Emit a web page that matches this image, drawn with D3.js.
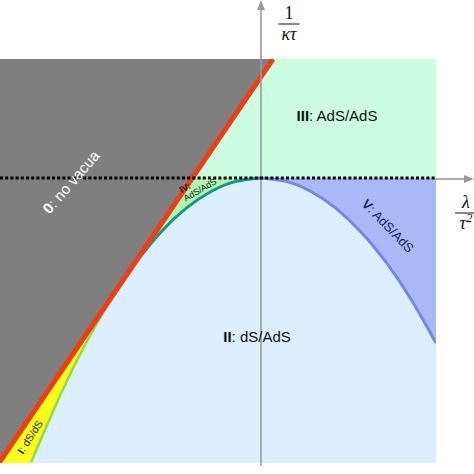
<!DOCTYPE html>
<html>
<head>
<meta charset="utf-8">
<script src="https://cdn.jsdelivr.net/npm/d3@7"></script>
<style>
    body { margin: 0; background: #fff; }
</style>
</head>
<body>
<div id="chart"></div>
<script>
// boundary of region II (lambda/tau^2 , 1/(kappa tau))
const boundaryX = [-2.30, -2.25, -2.0, -1.75, -1.5, -1.37, -1.25, -1.0, -0.75, -0.5, -0.25, 0,
    0.25, 0.5, 0.75, 1.0, 1.25, 1.5, 1.75];
const boundaryY = [-2.85, -2.728, -2.155, -1.65, -1.212, -1.011, -0.842, -0.539, -0.303, -0.135, -0.034, 0,
    -0.034, -0.135, -0.303, -0.539, -0.842, -1.212, -1.65];

// red edge of region 0 (two end points)
const edgeX = [0.12, -2.62];
const edgeY = [1.19, -2.85];

// where the red edge touches the boundary
const touchX = -1.37;
const touchY = -1.011;

const xDomain = [-2.61, 1.75];
const yDomain = [-2.85, 1.19];

// region labels
const regionIds = ['0', 'I', 'II', 'III', 'IV', 'V'];
const regionNames = ['no vacua', 'dS/dS', 'dS/AdS', 'AdS/AdS', 'AdS/AdS', 'AdS/AdS'];
const labelX = [-1.90, -2.31, -0.04, 0.76, -0.62, 1.27];
const labelY = [-0.04, -2.59, -1.59, 0.62, -0.10, -0.48];

const width = 474;
const height = 474;
const plot = {left: 0, right: 436, top: 59, bottom: 463};

const colors = {
    none: '#7f7f7f',
    I: '#ffff1e',
    II: '#dcefff',
    III: '#ccfde0',
    IV: '#b2f5ae',
    V: '#a9b9f8',
    red: '#ef3d17',
    lime: '#8fdf37',
    teal: '#16958b',
    blue: '#7885e6',
    axis: '#9a9a9a'
};

const svg = d3.select('#chart').append('svg')
    .attr('width', width)
    .attr('height', height)
    .attr('viewBox', [0, 0, width, height]);

let x = d3.scaleLinear().domain(xDomain).range([plot.left, plot.right]);
let y = d3.scaleLinear().domain(yDomain).range([plot.bottom, plot.top]);

svg.append('defs').append('clipPath')
    .attr('id', 'plot-clip')
    .append('rect')
    .attr('x', plot.left)
    .attr('y', plot.top)
    .attr('width', plot.right - plot.left)
    .attr('height', plot.bottom - plot.top);

let g = svg.append('g').attr('clip-path', 'url(#plot-clip)');

function band(x0, x1, y0, y1, fill) {
    g.append('rect')
        .attr('x', x(x0))
        .attr('y', y(y1))
        .attr('width', x(x1) - x(x0))
        .attr('height', y(y0) - y(y1))
        .attr('fill', fill);
}

// III above the dotted line, IV / I left of the axis, V right of it
band(xDomain[0], xDomain[1], 0, yDomain[1], colors.III);
band(xDomain[0], 0, touchY, 0, colors.IV);
band(xDomain[0], 0, yDomain[0], touchY, colors.I);
band(0, xDomain[1], yDomain[0], 0, colors.V);

let idx = d3.range(boundaryX.length);
let touchIdx = boundaryX.indexOf(touchX);
let vertexIdx = boundaryX.indexOf(0);

// II: everything under the boundary
g.append('path')
    .attr('d', d3.area()
        .x(i => x(boundaryX[i]))
        .y0(y(yDomain[0]))
        .y1(i => y(boundaryY[i]))
        .curve(d3.curveNatural)(idx))
    .attr('fill', colors.II);

// 0: left of the red edge
let greyCorners = [
    [xDomain[0] - 0.2, yDomain[1]],
    [edgeX[0], edgeY[0]],
    [edgeX[1], edgeY[1]],
    [xDomain[0] - 0.2, yDomain[0]]
];
g.append('path')
    .attr('d', d3.line().x(d => x(d[0])).y(d => y(d[1]))(greyCorners) + 'Z')
    .attr('fill', colors.none);

let boundaryLine = d3.line()
    .x(i => x(boundaryX[i]))
    .y(i => y(boundaryY[i]))
    .curve(d3.curveNatural);

g.append('path')
    .attr('d', boundaryLine(idx.slice(0, touchIdx + 1)))
    .attr('fill', 'none')
    .attr('stroke', colors.lime)
    .attr('stroke-width', 2.5);

g.append('path')
    .attr('d', boundaryLine(idx.slice(touchIdx, vertexIdx + 1)))
    .attr('fill', 'none')
    .attr('stroke', colors.teal)
    .attr('stroke-width', 3);

g.append('path')
    .attr('d', boundaryLine(idx.slice(vertexIdx)))
    .attr('fill', 'none')
    .attr('stroke', colors.blue)
    .attr('stroke-width', 3);

g.append('line')
    .attr('x1', x(edgeX[0]))
    .attr('y1', y(edgeY[0]))
    .attr('x2', x(edgeX[1]))
    .attr('y2', y(edgeY[1]))
    .attr('stroke', colors.red)
    .attr('stroke-width', 5);

// axes with arrow heads
let axisG = svg.append('g');
axisG.append('line')
    .attr('x1', x(0)).attr('x2', x(0))
    .attr('y1', plot.bottom + 3).attr('y2', 6)
    .attr('stroke', colors.axis)
    .attr('stroke-width', 1.6);
axisG.append('path')
    .attr('d', `M${x(0)},0 L${x(0) - 4},10 L${x(0) + 4},10 Z`)
    .attr('fill', colors.axis);
axisG.append('line')
    .attr('x1', plot.right).attr('x2', 468)
    .attr('y1', y(0) + 1).attr('y2', y(0) + 1)
    .attr('stroke', colors.axis)
    .attr('stroke-width', 1.6);
axisG.append('path')
    .attr('d', `M474,${y(0) + 1} L464,${y(0) - 3} L464,${y(0) + 5} Z`)
    .attr('fill', colors.axis);

// dotted line 1/(kappa tau) = 0
svg.append('line')
    .attr('x1', plot.left).attr('x2', plot.right)
    .attr('y1', y(0)).attr('y2', y(0))
    .attr('stroke', '#000')
    .attr('stroke-width', 3)
    .attr('stroke-dasharray', '3,2.2');

// axis titles as fractions
function fraction(cx, top, num, den, barWidth) {
    let f = svg.append('g')
        .attr('font-family', '"Liberation Serif", "DejaVu Serif", serif')
        .attr('font-size', 18)
        .attr('text-anchor', 'middle')
        .attr('fill', '#111');
    f.append('text').attr('x', cx).attr('y', top + 13).html(num);
    f.append('line')
        .attr('x1', cx - barWidth / 2).attr('x2', cx + barWidth / 2)
        .attr('y1', top + 18).attr('y2', top + 18)
        .attr('stroke', '#111').attr('stroke-width', 1);
    f.append('text').attr('x', cx).attr('y', top + 34).attr('font-style', 'italic').html(den);
}
fraction(289, 6, '1', 'κτ', 21);
fraction(466, 195, '<tspan font-style="italic">λ</tspan>', 'τ<tspan font-size="13" dy="-7">2</tspan>', 22);

// region labels
const labelStyle = [
    {size: 15, angle: -49, fill: '#fff'},
    {size: 10.5, angle: -57, fill: '#111'},
    {size: 15, angle: 0, fill: '#111'},
    {size: 15, angle: 0, fill: '#111'},
    {size: 9, angle: -30, fill: '#111'},
    {size: 13, angle: 46, fill: '#1b1d55'}
];

let labels = svg.append('g')
    .attr('font-family', '"Liberation Sans", Arial, sans-serif')
    .attr('text-anchor', 'middle');

regionIds.forEach((id, i) => {
    let st = labelStyle[i];
    let t = labels.append('text')
        .attr('transform', `translate(${x(labelX[i])},${y(labelY[i])}) rotate(${st.angle})`)
        .attr('font-size', st.size)
        .attr('fill', st.fill)
        .attr('dy', '0.35em');
    if (id === 'IV') {
        t.attr('dy', null);
        t.append('tspan').attr('x', -12).attr('y', -4).attr('font-weight', 'bold').text(id + ':');
        t.append('tspan').attr('x', 0).attr('y', 5).text(regionNames[i]);
    } else {
        t.append('tspan').attr('font-weight', 'bold').text(id);
        t.append('tspan').text(': ' + regionNames[i]);
    }
});
</script>
</body>
</html>
